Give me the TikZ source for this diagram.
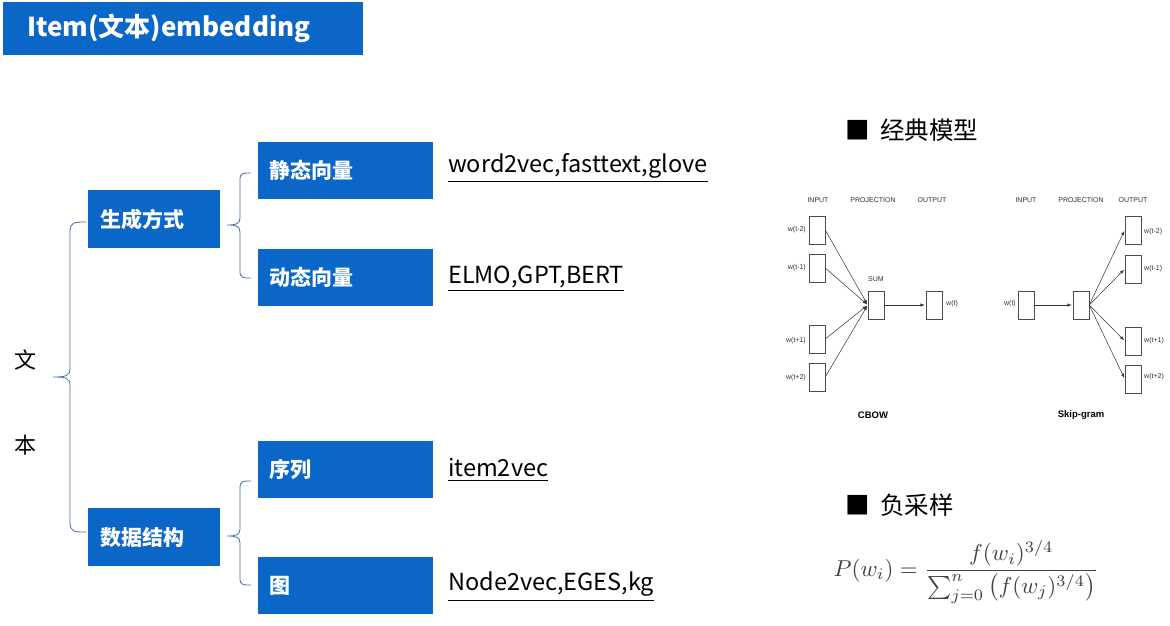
\documentclass[tikz,border=0pt]{standalone}
\usepackage{fontspec}
\usepackage{amsmath}
\setmainfont{Noto Sans CJK SC}
\newfontfamily\smallsans{Liberation Sans}
\definecolor{bluebox}{HTML}{0A67C8}
\definecolor{brace}{HTML}{4A6FA5}
\begin{document}
\begin{tikzpicture}[x=1pt,y=-1pt,
  bbox/.style={fill=bluebox,anchor=north west,inner sep=0pt},
  btxt/.style={text=white,anchor=west,font=\fontsize{21}{24}\selectfont\bfseries},
  ltxt/.style={anchor=west,font=\fontsize{23.5}{26}\selectfont,inner sep=0pt},
  brc/.style={draw=brace,line width=0.8pt},
  wb/.style={draw=black!70,line width=0.5pt,minimum width=16pt,minimum height=28pt,inner sep=0pt},
  tiny/.style={font=\smallsans\fontsize{7}{8}\selectfont,text=black!80,inner sep=0pt},
  arr/.style={-latex,draw=black!80,line width=0.5pt,shorten >=1pt}]
\path[use as bounding box,fill=white] (0,0) rectangle (1170,626);
% title
\node[bbox,minimum width=360pt,minimum height=53pt] (title) at (3,2) {};
\node[text=white,anchor=west,inner sep=0pt,font=\fontsize{26}{28}\selectfont\bfseries] at ([xshift=24pt]title.west) {Item(文本)embedding};
% boxes
\node[bbox,minimum width=132pt,minimum height=58pt] (gen) at (88,190) {};
\node[btxt] at ([xshift=9pt]gen.west) {生成方式};
\node[bbox,minimum width=132pt,minimum height=58pt] (ds) at (88,508) {};
\node[btxt] at ([xshift=9pt]ds.west) {数据结构};
\node[bbox,minimum width=175pt,minimum height=57pt] (st) at (258,142) {};
\node[btxt] at ([xshift=8pt]st.west) {静态向量};
\node[bbox,minimum width=175pt,minimum height=57pt] (dy) at (258,249) {};
\node[btxt] at ([xshift=8pt]dy.west) {动态向量};
\node[bbox,minimum width=175pt,minimum height=57pt] (seq) at (258,441) {};
\node[btxt] at ([xshift=8pt]seq.west) {序列};
\node[bbox,minimum width=175pt,minimum height=57pt] (gr) at (258,557) {};
\node[btxt] at ([xshift=8pt]gr.west) {图};
% labels
\node[ltxt] (l1) at (448,168) {\underline{word2vec,fasttext,glove}};
\node[ltxt] (l2) at (448,279) {\underline{ELMO,GPT,BERT}};
\node[ltxt] (l3) at (448,470) {\underline{item2vec}};
\node[ltxt] (l4) at (448,587) {\underline{Node2vec,EGES,kg}};
% root
\node[font=\fontsize{22}{24}\selectfont] (wen) at (25,360) {文};
\node[font=\fontsize{22}{24}\selectfont] (ben) at (25,445) {本};
% braces
\draw[brc] (86,222) .. controls (74,222) and (70,222) .. (70,232) -- (70,368) .. controls (70,376) and (66,377) .. (53,377)
  (53,377) .. controls (66,377) and (70,378) .. (70,386) -- (70,522) .. controls (70,532) and (74,532) .. (86,532);
\draw[brc] (251,173) .. controls (243,173) and (240,173) .. (240,180) -- (240,218) .. controls (240,224) and (236,225) .. (227,225)
  (227,225) .. controls (236,225) and (240,226) .. (240,232) -- (240,271) .. controls (240,278) and (243,278) .. (251,278);
\draw[brc] (251,481) .. controls (243,481) and (240,481) .. (240,488) -- (240,529) .. controls (240,535) and (236,536) .. (227,536)
  (227,536) .. controls (236,536) and (240,537) .. (240,543) -- (240,578) .. controls (240,585) and (243,585) .. (251,585);
% right headings
\node[anchor=west,font=\fontsize{24.5}{28}\selectfont] (h1) at (842,130) {■\hspace{10pt}经典模型};
\node[anchor=west,font=\fontsize{24.5}{28}\selectfont] (h2) at (842,505) {■\hspace{10pt}负采样};
% CBOW
\node[tiny] at (818,200) {INPUT};
\node[tiny] at (873,200) {PROJECTION};
\node[tiny] at (932,200) {OUTPUT};
\node[wb] (c1) at (817,230) {};
\node[wb] (c2) at (817,268) {};
\node[wb] (c3) at (817,339) {};
\node[wb] (c4) at (817,377) {};
\node[wb] (cs) at (876,305) {};
\node[wb] (co) at (934,305) {};
\node[tiny,anchor=east] at (806,230) {w(t-2)};
\node[tiny,anchor=east] at (806,268) {w(t-1)};
\node[tiny,anchor=east] at (806,341) {w(t+1)};
\node[tiny,anchor=east] at (806,378) {w(t+2)};
\node[tiny] at (876,279) {SUM};
\node[tiny,anchor=west] at (946,304) {w(t)};
\foreach \i in {c1,c2,c3,c4} \draw[arr] (\i.east) -- (cs.west);
\draw[arr] (cs.east) -- (co.west);
\node[font=\smallsans\bfseries\fontsize{9.5}{10}\selectfont] at (873,415) {CBOW};
% Skip-gram
\node[tiny] at (1026,200) {INPUT};
\node[tiny] at (1081,200) {PROJECTION};
\node[tiny] at (1133,200) {OUTPUT};
\node[wb] (si) at (1026,305) {};
\node[wb] (sp) at (1081,305) {};
\node[wb] (s1) at (1133,230) {};
\node[wb] (s2) at (1133,269) {};
\node[wb] (s3) at (1133,341) {};
\node[wb] (s4) at (1133,379) {};
\node[tiny,anchor=east] at (1016,304) {w(t)};
\node[tiny,anchor=west] at (1144,232) {w(t-2)};
\node[tiny,anchor=west] at (1144,269) {w(t-1)};
\node[tiny,anchor=west] at (1144,341) {w(t+1)};
\node[tiny,anchor=west] at (1144,377) {w(t+2)};
\draw[arr] (si.east) -- (sp.west);
\foreach \i in {s1,s2,s3,s4} \draw[arr] (sp.east) -- (\i.west);
\node[font=\smallsans\bfseries\fontsize{9.5}{10}\selectfont] at (1081,415) {Skip-gram};
% formula
\node[text=black!75,inner sep=0pt] (f) at (966,572) {\scalebox{2.3}{$\displaystyle P(w_i)=\frac{f(w_i)^{3/4}}{\sum_{j=0}^{n}\left(f(w_j)^{3/4}\right)}$}};
\end{tikzpicture}
\end{document}
